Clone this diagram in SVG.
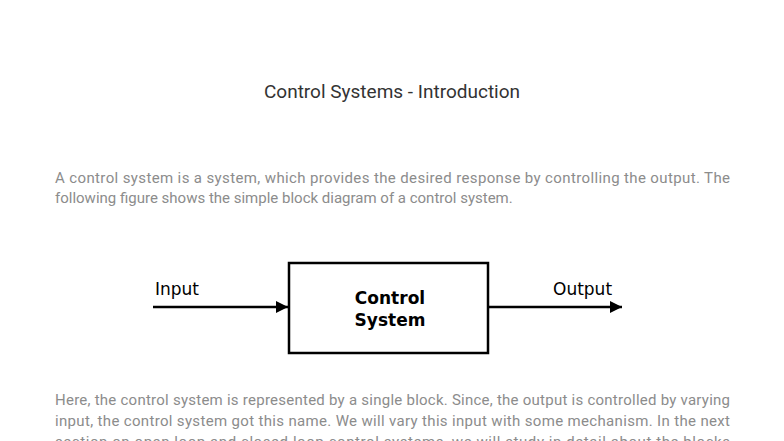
<svg xmlns="http://www.w3.org/2000/svg" width="784" height="441" viewBox="0 0 784 441">
<defs>
<style>
.p{font-family:Roboto,"Liberation Sans",sans-serif;font-size:15px;fill:#8c8c8c}
.l{font-family:"DejaVu Sans",Verdana,sans-serif;font-size:17px;fill:#000}
.b{font-family:"DejaVu Sans",Verdana,sans-serif;font-size:17px;font-weight:bold;fill:#000}
.c{stroke:#000;stroke-width:2.5;fill:none}
</style>
<marker id="ah" viewBox="0 0 10 10" refX="10" refY="5" markerWidth="5" markerHeight="5" orient="auto" markerUnits="strokeWidth"><path d="M0,0 L10,5 L0,10 z" fill="#000"/></marker>
</defs>
<rect width="784" height="441" fill="#fff"/>
<text x="392" y="98" text-anchor="middle" style="font-family:Roboto,'Liberation Sans',sans-serif;font-size:19px;fill:#333">Control Systems - Introduction</text>
<text class="p" x="55" y="183" textLength="675" lengthAdjust="spacing">A control system is a system, which provides the desired response by controlling the output. The</text>
<text class="p" x="55" y="203">following figure shows the simple block diagram of a control system.</text>
<g id="connectors">
<line class="c" x1="153" y1="307" x2="288" y2="307" marker-end="url(#ah)"/>
<line class="c" x1="488" y1="307" x2="622" y2="307" marker-end="url(#ah)"/>
</g>
<g id="input"><text class="l" x="155" y="295">Input</text></g>
<g id="output"><text class="l" x="553" y="295">Output</text></g>
<g id="control-system">
<rect x="289" y="263" width="199" height="90" fill="#fff" stroke="#000" stroke-width="2.5"/>
<text class="b" x="390" y="304" text-anchor="middle">Control</text>
<text class="b" x="390" y="326" text-anchor="middle">System</text>
</g>
<text class="p" x="55" y="405" textLength="675" lengthAdjust="spacing">Here, the control system is represented by a single block. Since, the output is controlled by varying</text>
<text class="p" x="55" y="426" textLength="675" lengthAdjust="spacing">input, the control system got this name. We will vary this input with some mechanism. In the next</text>
<text class="p" x="55" y="447" textLength="675" lengthAdjust="spacing">section on open loop and closed loop control systems, we will study in detail about the blocks</text>
</svg>
